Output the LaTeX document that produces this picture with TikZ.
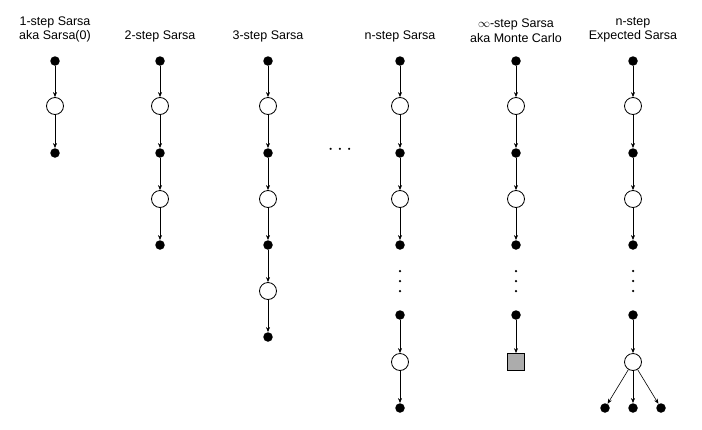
\documentclass[tikz,border=0pt]{standalone}
\usepackage{fontspec}
\setmainfont{Liberation Sans}
\usetikzlibrary{arrows.meta}
\begin{document}
\begin{tikzpicture}[x=1pt,y=-1pt,
  sdot/.style={circle,fill=black,inner sep=0pt,minimum size=9.5pt},
  act/.style={circle,draw,thick,fill=white,inner sep=0pt,minimum size=17pt},
  term/.style={draw,thick,fill=gray!65,inner sep=0pt,minimum size=17pt},
  arr/.style={-{Stealth[length=5pt,width=4pt]},semithick},
  ttl/.style={font=\fontsize{12.5}{14.5}\selectfont,align=center,anchor=south},
  vd/.style={circle,fill=black,inner sep=0pt,minimum size=2.5pt}]
\useasboundingbox (0,0) rectangle (702,429);
% titles
\node[ttl] (t1) at (55,46) {1-step Sarsa\\aka Sarsa(0)};
\node[ttl] (t2) at (160,46) {2-step Sarsa};
\node[ttl] (t3) at (268,46) {3-step Sarsa};
\node[ttl] (t4) at (400,46) {n-step Sarsa};
\node[ttl] (t5) at (516,46) {$\infty$-step Sarsa\\aka Monte Carlo};
\node[ttl] (t6) at (633,46) {n-step\\Expected Sarsa};
% column 1
\node[sdot] (a1) at (55,61) {};
\node[act] (a2) at (55,106) {};
\node[sdot] (a3) at (55,153) {};
\draw[arr] (a1)--(a2); \draw[arr] (a2)--(a3);
% column 2
\foreach \i/\y/\s in {1/61/sdot,2/106/act,3/153/sdot,4/199/act,5/245/sdot}
  \node[\s] (b\i) at (160,\y) {};
\foreach \i/\j in {1/2,2/3,3/4,4/5} \draw[arr] (b\i)--(b\j);
% column 3
\foreach \i/\y/\s in {1/61/sdot,2/106/act,3/153/sdot,4/199/act,5/245/sdot,6/291/act,7/337/sdot}
  \node[\s] (c\i) at (268,\y) {};
\foreach \i/\j in {1/2,2/3,3/4,4/5,5/6,6/7} \draw[arr] (c\i)--(c\j);
% ellipsis
\node[font=\fontsize{20}{20}\selectfont] (ell) at (340,150) {$\cdots$};
% columns 4-6 top parts
\foreach \c/\x in {d/400,e/516,f/633}{
  \foreach \i/\y/\s in {1/61/sdot,2/106/act,3/153/sdot,4/199/act,5/245/sdot,6/315/sdot}
    \node[\s] (\c\i) at (\x,\y) {};
  \foreach \i/\j in {1/2,2/3,3/4,4/5} \draw[arr] (\c\i)--(\c\j);
  \foreach \k/\y in {1/271,2/281,3/291} \node[vd] (\c v\k) at (\x,\y) {};
}
% n-step
\node[act] (d7) at (400,362) {};
\node[sdot] (d8) at (400,408) {};
\draw[arr] (d6)--(d7); \draw[arr] (d7)--(d8);
% MC
\node[term] (e7) at (516,362) {};
\draw[arr] (e6)--(e7);
% expected
\node[act] (f7) at (633,362) {};
\node[sdot] (f8) at (605,408) {};
\node[sdot] (f9) at (633,408) {};
\node[sdot] (f10) at (661,408) {};
\draw[arr] (f6)--(f7);
\draw[arr] (f7)--(f8); \draw[arr] (f7)--(f9); \draw[arr] (f7)--(f10);
\end{tikzpicture}
\end{document}
